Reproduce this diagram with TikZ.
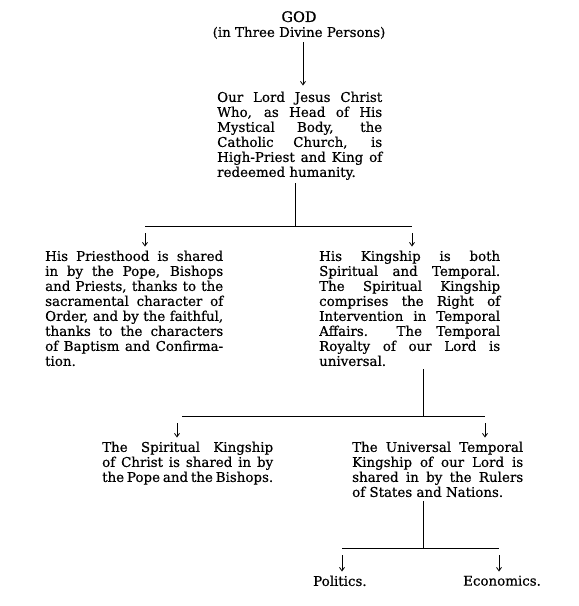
\documentclass[tikz,border=0pt]{standalone}
\usepackage{fontspec}
\setmainfont{DejaVu Serif}[BoldFont=DejaVu Serif,BoldFeatures={FakeBold=0.5}]
\usetikzlibrary{arrows.meta}
\newcommand{\jline}[2]{\makebox[#1][s]{#2}}
\begin{document}
\begin{tikzpicture}[x=1pt,y=-1pt,
  txt/.style={inner sep=0pt,anchor=north west,align=left,font=\fontsize{13.4}{15}\selectfont\bfseries},
  ln/.style={line width=0.8pt},
  arr/.style={line width=0.8pt,-{Straight Barb[length=3.5pt,width=5pt]}},
  garr/.style={arr,shorten <=7pt,shorten >=4pt}]
\useasboundingbox (0,0) rectangle (579,606);
% nodes
\node[inner sep=0pt,anchor=north,align=center,font=\fontsize{13.4}{15}\selectfont\bfseries] (god) at (299,11) {{\fontsize{14.5}{15}\selectfont GOD}\\(in Three Divine Persons)};
\node[txt] (lord) at (217,91.5) {\jline{165pt}{Our Lord Jesus Christ}\\
\jline{165pt}{Who, as Head of His}\\
\jline{165pt}{Mystical Body, the}\\
\jline{165pt}{Catholic Church, is}\\
\jline{165pt}{High-Priest and King of}\\
redeemed humanity.};
\node[txt] (priest) at (45,250.5) {\jline{178pt}{His Priesthood is shared}\\
\jline{178pt}{in by the Pope, Bishops}\\
\jline{178pt}{and Priests, thanks to the}\\
\jline{178pt}{sacramental character of}\\
\jline{178pt}{Order, and by the faithful,}\\
\jline{178pt}{thanks to the characters}\\
\jline{178pt}{of Baptism and Confirma-}\\
tion.};
\node[txt] (king) at (319,250.5) {\jline{181pt}{His Kingship is both}\\
\jline{181pt}{Spiritual and Temporal.}\\
\jline{181pt}{The Spiritual Kingship}\\
\jline{181pt}{comprises the Right of}\\
\jline{181pt}{Intervention in Temporal}\\
\jline{181pt}{Affairs.\ \ The Temporal}\\
\jline{181pt}{Royalty of our Lord is}\\
universal.};
\node[txt] (spk) at (102,441.5) {\jline{171pt}{The Spiritual Kingship}\\
\jline{171pt}{of Christ is shared in by}\\
\jline{171pt}{the Pope and the Bishops.}};
\node[txt] (tmk) at (352,441.5) {\jline{171pt}{The Universal Temporal}\\
\jline{171pt}{Kingship of our Lord is}\\
\jline{171pt}{shared in by the Rulers}\\
of States and Nations.};
\node[txt] (pol) at (313,575.5) {Politics.};
\node[txt] (eco) at (463,575.5) {Economics.};
% junction coordinates
\coordinate (a1) at (303,42);
\coordinate (j1) at (295,226);
\coordinate (j1l) at (145,226);
\coordinate (j1r) at (412,226);
\coordinate (j2) at (423,416);
\coordinate (j2l) at (177,416);
\coordinate (j2r) at (485,416);
\coordinate (j3) at (423,548);
\coordinate (j3l) at (342,548);
\coordinate (j3r) at (499,548);
% connectors
\draw[arr,shorten <=3pt,shorten >=6pt] (god.south -| a1) -- (lord.north -| a1);
\draw[ln,shorten <=3pt] (lord.south -| j1) -- (j1);
\draw[ln] (j1l) -- (j1r);
\draw[garr] (j1l) -- (j1l |- priest.north);
\draw[garr] (j1r) -- (j1r |- king.north);
\draw[ln,shorten <=3pt] (king.south -| j2) -- (j2);
\draw[ln] ([xshift=5pt]j2l) -- (j2r);
\draw[garr] (j2l) -- (j2l |- spk.north);
\draw[garr] (j2r) -- (j2r |- tmk.north);
\draw[ln,shorten <=4pt] (tmk.south -| j3) -- (j3);
\draw[ln] (j3l) -- (j3r);
\draw[garr] (j3l) -- (j3l |- pol.north);
\draw[garr] (j3r) -- (j3r |- eco.north);
\end{tikzpicture}
\end{document}
